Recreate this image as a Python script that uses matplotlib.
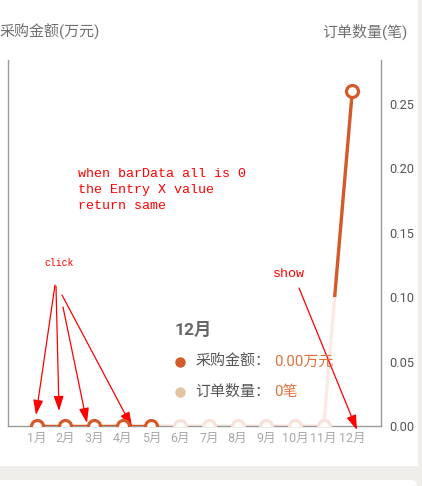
import matplotlib
matplotlib.use("Agg")
import matplotlib.pyplot as plt
from matplotlib.patches import Rectangle, FancyBboxPatch
from matplotlib.lines import Line2D

plt.rcParams['font.family'] = ['Roboto', 'Noto Sans CJK SC', 'DejaVu Sans']

# ---- data ----
months = ["1月", "2月", "3月", "4月", "5月", "6月", "7月", "8月", "9月", "10月", "11月", "12月"]
purchase = [0, 0, 0, 0, 0, 0, 0, 0, 0, 0, 0, 0.26]
yticks = [0.00, 0.05, 0.10, 0.15, 0.20, 0.25]
tip_month = "12月"
tip_amount = "0.00万元"
tip_count = "0笔"

W, H = 422, 486
fig = plt.figure(figsize=(W / 100, H / 100), dpi=100)
fig.patch.set_facecolor("white")

def P(x, y):
    return (x / W, 1 - y / H)

# background decorations
fig.add_artist(Rectangle(P(418, 466), 4 / W, 466 / H, transform=fig.transFigure,
                         facecolor="#efeeea", edgecolor="none"))
fig.add_artist(Rectangle(P(0, 479), 1, 13 / H, transform=fig.transFigure,
                         facecolor="#efeeea", edgecolor="none"))
fig.add_artist(Rectangle(P(0, 486), 1, 7 / H, transform=fig.transFigure,
                         facecolor="#efeeea", edgecolor="none"))
fig.add_artist(FancyBboxPatch(P(-10, 490), 427 / W, 10 / H,
                              boxstyle="round,pad=0,rounding_size=0.012",
                              transform=fig.transFigure, facecolor="white", edgecolor="none"))

left, right, top, bottom = 8, 381, 60, 426
ax = fig.add_axes([left / W, 1 - bottom / H, (right - left) / W, (bottom - top) / H])
ax.set_facecolor("white")

x = list(range(1, 13))
ax.set_xlim(0, 13)
ax.set_ylim(0, 0.284)

orange = "#d45a2b"
pale = "#fbebe4"

# pale full line
ax.plot(x, purchase, color=pale, lw=2.4, zorder=2, solid_capstyle="butt")
# solid part for first five months
ax.plot(x[:5], purchase[:5], color=orange, lw=2.4, zorder=3)
# solid part of last segment (upper portion)
seg, = ax.plot(x[10:], purchase[10:], color=orange, lw=2.4, zorder=3)
seg.set_clip_path(Rectangle((10, 0.10), 3, 1, transform=ax.transData))

# markers
ax.plot(x[5:11], purchase[5:11], ls="none", marker="o", ms=8.6, mew=2.3,
        mfc="white", mec="#f8e2d8", zorder=4)
ax.plot(x[:5], purchase[:5], ls="none", marker="o", ms=8.6, mew=2.3,
        mfc="white", mec=orange, zorder=5)
ax.plot(x[11:], purchase[11:], ls="none", marker="o", ms=8.6, mew=2.3,
        mfc="white", mec=orange, zorder=5)

# axes styling
for s in ["left", "right", "bottom"]:
    ax.spines[s].set_color("#9a9a9a")
    ax.spines[s].set_linewidth(1)
ax.spines["top"].set_visible(False)
ax.set_xticks(x)
ax.set_xticklabels(months, fontsize=9, color="#a8a8a8")
ax.yaxis.tick_right()
ax.set_yticks(yticks)
ax.set_yticklabels([f"{v:.2f}" for v in yticks], fontsize=9.2, color="#555555")
ax.tick_params(axis="both", length=0)
ax.tick_params(axis="x", pad=4)
ax.tick_params(axis="y", pad=6)
for lab in ax.get_xticklabels():
    lab.set_clip_on(False)

# axis titles
fig.text(*P(-1, 32), "采购金额(万元)", fontsize=10.8, color="#707070", va="center", ha="left")
fig.text(*P(408, 32), "订单数量(笔)", fontsize=10.8, color="#707070", va="center", ha="right")

# tooltip
fig.text(*P(175, 330), tip_month, fontsize=12.5, fontweight="bold", color="#666666",
         va="center", ha="left")
fig.add_artist(Line2D([P(180, 362)[0]], [P(180, 362)[1]], marker="o", ms=7.5,
                      color="#d45a2b", mec="none", ls="none", transform=fig.transFigure))
fig.add_artist(Line2D([P(180, 392)[0]], [P(180, 392)[1]], marker="o", ms=7.5,
                      color="#e3c3a5", mec="none", ls="none", transform=fig.transFigure))
fig.text(*P(195, 362), "采购金额：", fontsize=10.8, color="#555555", va="center", ha="left")
fig.text(*P(274, 362), tip_amount, fontsize=10.8, color="#e0703c", va="center", ha="left")
fig.text(*P(195, 392), "订单数量：", fontsize=10.8, color="#555555", va="center", ha="left")
fig.text(*P(274, 392), tip_count, fontsize=10.8, color="#e0703c", va="center", ha="left")

# red annotations
mono = ["Liberation Mono", "DejaVu Sans Mono"]
for i, line in enumerate(["when barData all is 0", "the Entry X value", "return same"]):
    fig.text(*P(78, 174 + 16 * i), line, fontsize=9.6, color="red", family=mono,
             va="center", ha="left")
fig.text(*P(44, 263), "click", fontsize=7, color="red", family=mono, va="center", ha="left")
fig.text(*P(273, 274), "show", fontsize=9.6, color="red", family=mono, va="center", ha="left")

arrows = [((55, 285), (36, 415)), ((56, 286), (59, 411)), ((63, 307), (87, 423)),
          ((62, 295), (132, 427)), ((299, 288), (357, 430))]
for (sx, sy), (ex, ey) in arrows:
    ax.annotate("", xy=P(ex, ey), xytext=P(sx, sy), xycoords="figure fraction",
                textcoords="figure fraction", annotation_clip=False,
                arrowprops=dict(arrowstyle="-|>,head_length=0.9,head_width=0.3",
                                color="red", lw=0.9, shrinkA=0, shrinkB=0))

fig.savefig("out.png", dpi=100, facecolor="white")
